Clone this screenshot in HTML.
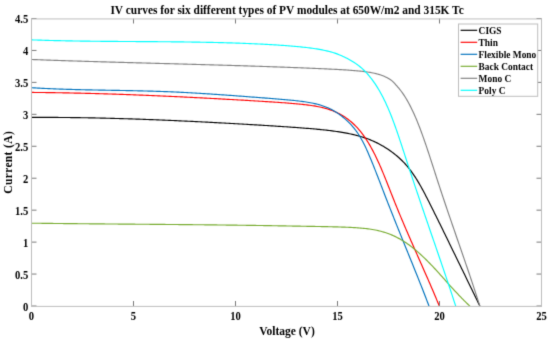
<!DOCTYPE html>
<html><head><meta charset="utf-8"><style>
html,body{margin:0;padding:0;background:#fff;}
svg{display:block;}
</style></head><body>
<svg width="550" height="342" viewBox="0 0 550 342">
<defs><filter id="bl" x="0" y="0" width="550" height="342" filterUnits="userSpaceOnUse" primitiveUnits="userSpaceOnUse" color-interpolation-filters="sRGB"><feConvolveMatrix order="3" kernelMatrix="0.0144 0.0912 0.0144 0.0912 0.5776 0.0912 0.0144 0.0912 0.0144" divisor="1" edgeMode="duplicate"/></filter><clipPath id="c"><rect x="31.5" y="18.5" width="510.0" height="287.5"/></clipPath></defs>
<g filter="url(#bl)"><rect width="550" height="342" fill="#fff"/>
<rect x="31.5" y="18.5" width="510.0" height="287.5" fill="#fff" stroke="none"/>
<g clip-path="url(#c)" fill="none" stroke-width="1.15" stroke-linejoin="round">
<path d="M23.44,117.08 L24.92,117.14 L26.40,117.21 L27.88,117.27 L29.37,117.34 L30.85,117.40 L32.33,117.43 L33.82,117.42 L35.31,117.41 L36.79,117.41 L38.28,117.41 L39.76,117.40 L41.25,117.40 L42.73,117.40 L44.22,117.40 L45.70,117.40 L47.19,117.40 L48.67,117.41 L50.16,117.41 L51.64,117.42 L53.13,117.42 L54.61,117.43 L56.10,117.44 L57.58,117.44 L59.07,117.45 L60.55,117.46 L62.04,117.48 L63.52,117.49 L65.01,117.50 L66.49,117.51 L67.98,117.53 L69.46,117.55 L70.95,117.56 L72.43,117.58 L73.92,117.60 L75.40,117.62 L76.88,117.64 L78.37,117.66 L79.85,117.68 L81.34,117.70 L82.82,117.73 L84.31,117.75 L85.79,117.78 L87.27,117.80 L88.76,117.83 L90.24,117.86 L91.73,117.89 L93.21,117.91 L94.69,117.94 L96.18,117.98 L97.66,118.01 L99.15,118.04 L100.63,118.07 L102.11,118.11 L103.60,118.14 L105.08,118.18 L106.57,118.21 L108.05,118.25 L109.53,118.29 L111.02,118.33 L112.50,118.37 L113.98,118.41 L115.47,118.45 L116.95,118.49 L118.43,118.53 L119.92,118.57 L121.40,118.62 L122.88,118.66 L124.37,118.70 L125.85,118.75 L127.33,118.80 L128.82,118.84 L130.30,118.89 L131.78,118.94 L133.27,118.99 L134.75,119.04 L136.23,119.09 L137.72,119.14 L139.20,119.19 L140.68,119.24 L142.16,119.30 L143.65,119.35 L145.13,119.40 L146.61,119.46 L148.10,119.51 L149.58,119.57 L151.06,119.63 L152.55,119.68 L154.03,119.74 L155.51,119.80 L156.99,119.86 L158.48,119.92 L159.96,119.98 L161.44,120.04 L162.92,120.10 L164.41,120.16 L165.89,120.23 L167.37,120.29 L168.85,120.35 L170.34,120.42 L171.82,120.48 L173.30,120.55 L174.78,120.61 L176.27,120.68 L177.75,120.74 L179.23,120.81 L180.71,120.88 L182.20,120.95 L183.68,121.02 L185.16,121.09 L186.64,121.16 L188.13,121.23 L189.61,121.30 L191.09,121.37 L192.57,121.44 L194.05,121.51 L195.54,121.58 L197.02,121.66 L198.50,121.73 L199.98,121.80 L201.46,121.88 L202.95,121.95 L204.43,122.03 L205.91,122.11 L207.39,122.18 L208.87,122.26 L210.36,122.33 L211.84,122.41 L213.32,122.49 L214.80,122.57 L216.28,122.65 L217.77,122.73 L219.25,122.81 L220.73,122.89 L222.21,122.97 L223.69,123.05 L225.18,123.13 L226.66,123.21 L228.14,123.29 L229.62,123.37 L231.10,123.46 L232.59,123.54 L234.07,123.62 L235.55,123.71 L237.03,123.79 L238.51,123.87 L240.00,123.96 L241.48,124.04 L242.96,124.13 L244.44,124.22 L245.92,124.30 L247.40,124.39 L248.89,124.48 L250.37,124.56 L251.85,124.65 L253.33,124.74 L254.82,124.83 L256.30,124.92 L257.78,125.01 L259.26,125.10 L260.74,125.19 L262.23,125.28 L263.71,125.37 L265.19,125.46 L266.67,125.55 L268.16,125.64 L269.64,125.74 L271.12,125.83 L272.60,125.92 L274.09,126.02 L275.57,126.11 L277.05,126.21 L278.54,126.31 L280.02,126.40 L281.50,126.50 L282.99,126.60 L284.47,126.70 L285.96,126.80 L287.44,126.90 L288.93,127.00 L290.41,127.11 L291.89,127.21 L293.38,127.32 L294.87,127.42 L296.35,127.53 L297.84,127.64 L299.32,127.75 L300.81,127.86 L302.30,127.98 L303.79,128.09 L305.20,128.20 L306.61,128.32 L308.02,128.43 L309.43,128.55 L310.84,128.67 L312.25,128.79 L313.67,128.91 L315.08,129.04 L316.50,129.17 L317.91,129.31 L319.33,129.44 L320.74,129.58 L322.16,129.73 L323.58,129.87 L325.00,130.03 L326.42,130.18 L327.84,130.35 L329.27,130.51 L330.69,130.69 L332.12,130.87 L333.55,131.06 L334.98,131.25 L336.41,131.45 L337.85,131.66 L339.28,131.88 L340.72,132.11 L342.16,132.35 L343.61,132.60 L345.05,132.86 L346.50,133.13 L347.96,133.41 L349.41,133.71 L350.88,134.02 L352.26,134.33 L353.65,134.65 L355.05,134.99 L356.44,135.35 L357.85,135.72 L359.26,136.11 L360.68,136.52 L362.11,136.96 L363.46,137.39 L364.81,137.84 L366.18,138.31 L367.55,138.81 L368.94,139.33 L370.34,139.89 L371.66,140.43 L372.99,141.01 L374.34,141.61 L375.70,142.25 L376.98,142.87 L378.27,143.52 L379.58,144.21 L380.91,144.93 L382.16,145.63 L383.42,146.37 L384.71,147.14 L386.01,147.95 L387.23,148.73 L388.46,149.55 L389.72,150.41 L390.88,151.23 L392.06,152.09 L393.25,152.99 L394.46,153.93 L395.58,154.83 L396.70,155.76 L397.84,156.74 L398.99,157.75 L400.03,158.71 L401.09,159.71 L402.15,160.74 L403.21,161.82 L404.29,162.95 L405.25,163.99 L406.21,165.07 L407.18,166.19 L408.14,167.35 L409.11,168.56 L410.09,169.81 L410.94,170.94 L411.79,172.11 L412.65,173.31 L413.51,174.55 L414.37,175.82 L415.23,177.14 L416.10,178.49 L416.97,179.89 L417.72,181.11 L418.47,182.37 L419.22,183.66 L419.98,184.97 L420.75,186.32 L421.52,187.71 L422.29,189.12 L423.07,190.57 L423.86,192.05 L424.53,193.31 L425.20,194.59 L425.87,195.89 L426.56,197.22 L427.25,198.58 L427.95,199.96 L428.66,201.36 L429.38,202.79 L430.11,204.24 L430.86,205.72 L431.61,207.23 L432.38,208.76 L433.15,210.32 L433.79,211.59 L434.42,212.88 L435.07,214.18 L435.73,215.51 L436.39,216.85 L437.06,218.22 L437.75,219.60 L438.44,221.00 L439.14,222.43 L439.85,223.87 L440.57,225.34 L441.30,226.83 L442.04,228.34 L442.79,229.87 L443.55,231.42 L444.32,233.00 L445.10,234.60 L445.90,236.23 L446.70,237.87 L447.52,239.55 L448.14,240.82 L448.77,242.11 L449.40,243.41 L450.04,244.72 L450.69,246.05 L451.35,247.39 L452.01,248.75 L452.68,250.13 L453.36,251.52 L454.05,252.92 L454.74,254.35 L455.44,255.78 L456.15,257.24 L456.87,258.71 L457.59,260.20 L458.33,261.70 L459.07,263.22 L459.82,264.76 L460.58,266.32 L461.35,267.89 L462.12,269.49 L462.91,271.10 L463.70,272.73 L464.50,274.37 L465.31,276.04 L466.13,277.73 L466.96,279.43 L467.80,281.16 L468.65,282.90 L469.51,284.67 L470.37,286.45 L471.25,288.26 L472.13,290.09 L473.03,291.94 L473.93,293.81 L474.84,295.70 L475.46,296.98 L476.08,298.26 L476.70,299.56 L477.33,300.86 L477.96,302.18 L478.60,303.50 L479.24,304.84 L479.88,306.18 L480.44,307.57 L481.01,308.98 L481.58,310.39 L482.15,311.82 L482.73,313.25" stroke="#000000"/>
<path d="M23.46,92.05 L24.88,92.11 L26.30,92.18 L27.71,92.24 L29.13,92.31 L30.54,92.37 L31.96,92.42 L33.38,92.43 L34.80,92.45 L36.21,92.46 L37.63,92.47 L39.05,92.49 L40.47,92.50 L41.89,92.52 L43.30,92.53 L44.72,92.55 L46.14,92.57 L47.56,92.59 L48.97,92.61 L50.39,92.62 L51.81,92.64 L53.23,92.67 L54.65,92.69 L56.06,92.71 L57.48,92.73 L58.90,92.76 L60.32,92.78 L61.73,92.80 L63.15,92.83 L64.57,92.86 L65.99,92.88 L67.40,92.91 L68.82,92.94 L70.24,92.97 L71.65,93.00 L73.07,93.03 L74.49,93.06 L75.91,93.09 L77.32,93.12 L78.74,93.15 L80.16,93.18 L81.58,93.22 L82.99,93.25 L84.41,93.29 L85.83,93.32 L87.24,93.36 L88.66,93.39 L90.08,93.43 L91.49,93.47 L92.91,93.51 L94.33,93.55 L95.74,93.58 L97.16,93.62 L98.58,93.66 L100.00,93.71 L101.41,93.75 L102.83,93.79 L104.25,93.83 L105.66,93.88 L107.08,93.92 L108.50,93.96 L109.91,94.01 L111.33,94.05 L112.74,94.10 L114.16,94.15 L115.58,94.19 L116.99,94.24 L118.41,94.29 L119.83,94.34 L121.24,94.39 L122.66,94.44 L124.08,94.49 L125.49,94.54 L126.91,94.59 L128.33,94.64 L129.74,94.69 L131.16,94.74 L132.57,94.80 L133.99,94.85 L135.41,94.90 L136.82,94.96 L138.24,95.01 L139.65,95.07 L141.07,95.12 L142.49,95.18 L143.90,95.24 L145.32,95.30 L146.73,95.35 L148.15,95.41 L149.57,95.47 L150.98,95.53 L152.40,95.59 L153.81,95.65 L155.23,95.71 L156.65,95.77 L158.06,95.83 L159.48,95.89 L160.89,95.96 L162.31,96.02 L163.72,96.08 L165.14,96.14 L166.56,96.21 L167.97,96.27 L169.39,96.34 L170.80,96.40 L172.22,96.47 L173.63,96.53 L175.05,96.60 L176.47,96.67 L177.88,96.73 L179.30,96.80 L180.71,96.87 L182.13,96.94 L183.54,97.01 L184.96,97.07 L186.37,97.14 L187.79,97.21 L189.20,97.28 L190.62,97.35 L192.04,97.43 L193.45,97.50 L194.87,97.57 L196.28,97.64 L197.70,97.71 L199.11,97.78 L200.53,97.86 L201.94,97.93 L203.36,98.00 L204.77,98.08 L206.19,98.15 L207.60,98.23 L209.02,98.30 L210.43,98.38 L211.85,98.45 L213.26,98.53 L214.68,98.61 L216.09,98.68 L217.51,98.76 L218.93,98.84 L220.34,98.91 L221.76,98.99 L223.17,99.07 L224.59,99.15 L226.00,99.23 L227.42,99.31 L228.83,99.38 L230.25,99.46 L231.66,99.54 L233.08,99.62 L234.49,99.71 L235.91,99.79 L237.32,99.87 L238.74,99.95 L240.15,100.03 L241.57,100.11 L242.98,100.19 L244.40,100.28 L245.81,100.36 L247.23,100.44 L248.64,100.53 L250.06,100.61 L251.47,100.70 L252.89,100.78 L254.30,100.87 L255.72,100.95 L257.13,101.04 L258.55,101.12 L259.96,101.21 L261.38,101.30 L262.80,101.39 L264.21,101.48 L265.63,101.56 L267.04,101.65 L268.46,101.74 L269.88,101.84 L271.29,101.93 L272.71,102.02 L274.12,102.11 L275.54,102.21 L276.96,102.30 L278.38,102.40 L279.79,102.50 L281.21,102.60 L282.63,102.70 L284.05,102.80 L285.47,102.91 L286.89,103.01 L288.31,103.12 L289.73,103.24 L291.15,103.35 L292.57,103.47 L294.00,103.59 L295.42,103.71 L296.84,103.84 L298.27,103.98 L299.70,104.12 L301.13,104.26 L302.56,104.41 L303.99,104.57 L305.42,104.74 L306.86,104.91 L308.29,105.10 L309.74,105.29 L311.18,105.49 L312.63,105.71 L314.08,105.94 L315.53,106.19 L316.99,106.45 L318.38,106.71 L319.78,106.99 L321.18,107.30 L322.59,107.62 L324.01,107.97 L325.44,108.35 L326.80,108.74 L328.18,109.15 L329.56,109.60 L330.96,110.09 L332.30,110.58 L333.65,111.12 L335.02,111.70 L336.33,112.29 L337.66,112.93 L338.92,113.57 L340.21,114.26 L341.52,115.01 L342.77,115.75 L344.05,116.56 L345.26,117.35 L346.49,118.21 L347.65,119.05 L348.84,119.95 L349.95,120.83 L351.07,121.77 L352.22,122.77 L353.28,123.73 L354.36,124.75 L355.46,125.84 L356.46,126.87 L357.47,127.95 L358.49,129.10 L359.53,130.31 L360.46,131.44 L361.40,132.62 L362.34,133.86 L363.30,135.16 L364.15,136.34 L365.00,137.57 L365.87,138.85 L366.74,140.19 L367.61,141.58 L368.37,142.81 L369.14,144.09 L369.91,145.40 L370.69,146.77 L371.47,148.18 L372.27,149.63 L372.93,150.89 L373.60,152.17 L374.28,153.49 L374.96,154.85 L375.64,156.25 L376.34,157.68 L377.04,159.16 L377.74,160.67 L378.45,162.23 L379.17,163.83 L379.75,165.14 L380.34,166.47 L380.93,167.84 L381.53,169.24 L382.13,170.66 L382.74,172.12 L383.36,173.61 L383.99,175.13 L384.62,176.68 L385.26,178.26 L385.91,179.88 L386.57,181.53 L387.24,183.21 L387.92,184.93 L388.61,186.69 L389.14,188.03 L389.67,189.39 L390.21,190.77 L390.76,192.17 L391.32,193.59 L391.89,195.04 L392.47,196.50 L393.06,197.99 L393.66,199.50 L394.27,201.03 L394.89,202.59 L395.53,204.17 L396.18,205.77 L396.84,207.39 L397.51,209.04 L398.20,210.71 L398.90,212.41 L399.61,214.13 L400.34,215.88 L401.08,217.65 L401.84,219.45 L402.61,221.28 L403.39,223.14 L404.19,225.02 L405.01,226.93 L405.84,228.87 L406.41,230.18 L406.98,231.51 L407.56,232.84 L408.14,234.19 L408.73,235.56 L409.33,236.94 L409.94,238.33 L410.55,239.74 L411.17,241.16 L411.80,242.59 L412.44,244.05 L413.08,245.51 L413.74,246.99 L414.39,248.49 L415.06,250.00 L415.74,251.53 L416.42,253.07 L417.11,254.63 L417.80,256.21 L418.51,257.80 L419.22,259.41 L419.94,261.04 L420.67,262.68 L421.40,264.34 L422.14,266.02 L422.89,267.72 L423.65,269.44 L424.41,271.17 L425.18,272.93 L425.96,274.70 L426.75,276.49 L427.54,278.30 L428.34,280.13 L429.14,281.98 L429.96,283.85 L430.77,285.75 L431.60,287.66 L432.43,289.60 L433.26,291.55 L434.11,293.53 L434.95,295.53 L435.81,297.56 L436.66,299.60 L437.52,301.67 L438.39,303.77 L439.26,305.89 L440.04,308.06 L440.83,310.26 L441.62,312.48" stroke="#ff0000"/>
<path d="M23.50,87.31 L24.95,87.38 L26.40,87.45 L27.85,87.52 L29.30,87.59 L30.75,87.66 L32.20,87.74 L33.64,87.82 L35.09,87.91 L36.54,87.99 L37.99,88.08 L39.44,88.15 L40.88,88.23 L42.33,88.31 L43.78,88.38 L45.23,88.45 L46.68,88.52 L48.13,88.59 L49.58,88.65 L51.03,88.72 L52.47,88.78 L53.92,88.84 L55.37,88.90 L56.82,88.95 L58.27,89.01 L59.72,89.06 L61.17,89.11 L62.62,89.16 L64.07,89.21 L65.52,89.26 L66.97,89.31 L68.42,89.35 L69.87,89.40 L71.32,89.44 L72.77,89.48 L74.22,89.52 L75.67,89.56 L77.12,89.60 L78.57,89.63 L80.02,89.67 L81.47,89.71 L82.92,89.74 L84.37,89.77 L85.82,89.81 L87.27,89.84 L88.72,89.87 L90.17,89.90 L91.62,89.93 L93.08,89.96 L94.53,89.99 L95.98,90.02 L97.43,90.04 L98.88,90.07 L100.33,90.10 L101.78,90.13 L103.23,90.15 L104.68,90.18 L106.13,90.20 L107.58,90.23 L109.03,90.26 L110.48,90.28 L111.94,90.31 L113.39,90.33 L114.84,90.36 L116.29,90.38 L117.74,90.41 L119.19,90.44 L120.64,90.46 L122.09,90.49 L123.54,90.52 L124.99,90.54 L126.44,90.57 L127.89,90.60 L129.34,90.63 L130.79,90.66 L132.25,90.69 L133.70,90.72 L135.15,90.75 L136.60,90.78 L138.05,90.81 L139.50,90.84 L140.95,90.88 L142.40,90.91 L143.85,90.95 L145.30,90.98 L146.75,91.02 L148.20,91.06 L149.65,91.10 L151.10,91.14 L152.55,91.18 L154.00,91.23 L155.45,91.27 L156.90,91.32 L158.35,91.36 L159.80,91.41 L161.25,91.46 L162.70,91.51 L164.15,91.57 L165.60,91.62 L167.05,91.67 L168.50,91.73 L169.95,91.79 L171.39,91.85 L172.84,91.91 L174.29,91.98 L175.74,92.04 L177.19,92.11 L178.64,92.18 L180.09,92.25 L181.54,92.32 L182.99,92.40 L184.43,92.47 L185.88,92.55 L187.33,92.62 L188.78,92.70 L190.23,92.78 L191.67,92.86 L193.12,92.95 L194.57,93.03 L196.02,93.12 L197.47,93.20 L198.91,93.29 L200.36,93.38 L201.81,93.47 L203.26,93.56 L204.71,93.65 L206.15,93.74 L207.60,93.84 L209.05,93.93 L210.50,94.03 L211.94,94.12 L213.39,94.22 L214.84,94.32 L216.29,94.42 L217.73,94.51 L219.18,94.61 L220.63,94.72 L222.08,94.82 L223.52,94.92 L224.97,95.02 L226.42,95.12 L227.86,95.23 L229.31,95.33 L230.76,95.44 L232.21,95.54 L233.65,95.65 L235.10,95.76 L236.55,95.86 L237.99,95.97 L239.44,96.08 L240.89,96.18 L242.34,96.29 L243.78,96.40 L245.23,96.51 L246.68,96.62 L248.12,96.73 L249.57,96.84 L251.02,96.95 L252.47,97.06 L253.91,97.17 L255.36,97.28 L256.81,97.39 L258.26,97.50 L259.71,97.61 L261.15,97.72 L262.60,97.83 L264.05,97.94 L265.50,98.06 L266.95,98.17 L268.40,98.28 L269.84,98.39 L271.29,98.51 L272.74,98.62 L274.19,98.74 L275.64,98.86 L277.09,98.97 L278.54,99.09 L280.00,99.21 L281.45,99.34 L282.90,99.46 L284.35,99.58 L285.80,99.71 L287.26,99.84 L288.71,99.98 L290.17,100.11 L291.62,100.26 L293.08,100.40 L294.54,100.55 L296.00,100.71 L297.46,100.87 L298.92,101.04 L300.39,101.22 L301.86,101.40 L303.33,101.60 L304.73,101.80 L306.13,102.01 L307.54,102.23 L308.95,102.47 L310.36,102.72 L311.78,102.99 L313.20,103.28 L314.63,103.59 L316.07,103.92 L317.51,104.28 L318.89,104.65 L320.28,105.05 L321.68,105.48 L323.09,105.95 L324.44,106.42 L325.81,106.94 L327.19,107.51 L328.51,108.08 L329.85,108.71 L331.13,109.34 L332.43,110.02 L333.67,110.72 L334.93,111.46 L336.13,112.21 L337.36,113.01 L338.61,113.87 L339.80,114.72 L341.02,115.63 L342.17,116.53 L343.35,117.48 L344.46,118.41 L345.59,119.39 L346.64,120.34 L347.71,121.34 L348.80,122.39 L349.80,123.40 L350.82,124.46 L351.84,125.58 L352.88,126.77 L353.81,127.87 L354.75,129.04 L355.68,130.26 L356.62,131.55 L357.45,132.72 L358.27,133.95 L359.09,135.23 L359.92,136.57 L360.74,137.96 L361.45,139.20 L362.16,140.48 L362.87,141.81 L363.58,143.18 L364.30,144.60 L365.01,146.06 L365.73,147.57 L366.34,148.87 L366.94,150.21 L367.55,151.58 L368.17,152.98 L368.79,154.42 L369.42,155.90 L370.06,157.42 L370.70,158.97 L371.36,160.56 L372.03,162.20 L372.57,163.53 L373.12,164.90 L373.68,166.29 L374.24,167.70 L374.81,169.15 L375.40,170.63 L375.99,172.13 L376.59,173.67 L377.20,175.23 L377.82,176.83 L378.45,178.46 L379.10,180.12 L379.75,181.82 L380.42,183.55 L380.93,184.87 L381.44,186.21 L381.96,187.57 L382.49,188.95 L383.03,190.35 L383.58,191.77 L384.14,193.21 L384.70,194.68 L385.28,196.17 L385.86,197.68 L386.45,199.21 L387.06,200.76 L387.67,202.34 L388.29,203.94 L388.93,205.56 L389.58,207.21 L390.23,208.89 L390.90,210.58 L391.58,212.31 L392.28,214.06 L392.98,215.83 L393.70,217.64 L394.43,219.47 L395.17,221.33 L395.92,223.21 L396.69,225.13 L397.47,227.07 L398.00,228.39 L398.54,229.71 L399.08,231.05 L399.62,232.40 L400.17,233.77 L400.73,235.15 L401.30,236.55 L401.87,237.96 L402.45,239.38 L403.03,240.82 L403.62,242.27 L404.22,243.74 L404.82,245.22 L405.43,246.72 L406.04,248.24 L406.67,249.77 L407.29,251.31 L407.93,252.87 L408.57,254.45 L409.22,256.05 L409.87,257.66 L410.54,259.29 L411.20,260.93 L411.88,262.59 L412.56,264.27 L413.25,265.97 L413.94,267.69 L414.64,269.42 L415.35,271.17 L416.06,272.94 L416.78,274.73 L417.50,276.54 L418.23,278.37 L418.97,280.22 L419.71,282.09 L420.46,283.97 L421.21,285.88 L421.97,287.81 L422.74,289.76 L423.51,291.73 L424.29,293.73 L425.07,295.74 L425.85,297.78 L426.64,299.84 L427.44,301.92 L428.24,304.03 L429.04,306.16 L429.77,308.34 L430.50,310.54 L431.24,312.76" stroke="#0072bd"/>
<path d="M23.56,223.09 L25.00,223.11 L26.44,223.13 L27.88,223.14 L29.32,223.16 L30.76,223.18 L32.20,223.20 L33.64,223.21 L35.08,223.23 L36.52,223.25 L37.96,223.27 L39.40,223.29 L40.84,223.30 L42.28,223.32 L43.72,223.34 L45.16,223.35 L46.60,223.37 L48.04,223.39 L49.48,223.40 L50.91,223.42 L52.35,223.44 L53.79,223.45 L55.23,223.47 L56.67,223.48 L58.11,223.50 L59.55,223.51 L60.99,223.53 L62.43,223.54 L63.87,223.56 L65.31,223.57 L66.75,223.59 L68.19,223.60 L69.63,223.62 L71.07,223.63 L72.51,223.65 L73.95,223.66 L75.39,223.67 L76.83,223.69 L78.27,223.70 L79.71,223.72 L81.15,223.73 L82.59,223.74 L84.03,223.76 L85.47,223.77 L86.91,223.78 L88.35,223.80 L89.79,223.81 L91.23,223.82 L92.67,223.83 L94.11,223.85 L95.54,223.86 L96.98,223.87 L98.42,223.89 L99.86,223.90 L101.30,223.91 L102.74,223.92 L104.18,223.93 L105.62,223.95 L107.06,223.96 L108.50,223.97 L109.94,223.98 L111.38,224.00 L112.82,224.01 L114.26,224.02 L115.70,224.03 L117.14,224.04 L118.58,224.06 L120.02,224.07 L121.46,224.08 L122.90,224.09 L124.34,224.10 L125.78,224.11 L127.22,224.13 L128.66,224.14 L130.10,224.15 L131.54,224.16 L132.98,224.17 L134.42,224.18 L135.86,224.20 L137.30,224.21 L138.74,224.22 L140.18,224.23 L141.62,224.24 L143.05,224.26 L144.49,224.27 L145.93,224.28 L147.37,224.29 L148.81,224.30 L150.25,224.31 L151.69,224.33 L153.13,224.34 L154.57,224.35 L156.01,224.36 L157.45,224.37 L158.89,224.39 L160.33,224.40 L161.77,224.41 L163.21,224.42 L164.65,224.44 L166.09,224.45 L167.53,224.46 L168.97,224.47 L170.41,224.49 L171.85,224.50 L173.29,224.51 L174.73,224.52 L176.17,224.54 L177.61,224.55 L179.05,224.56 L180.49,224.58 L181.93,224.59 L183.37,224.60 L184.81,224.62 L186.25,224.63 L187.69,224.64 L189.12,224.66 L190.56,224.67 L192.00,224.68 L193.44,224.70 L194.88,224.71 L196.32,224.73 L197.76,224.74 L199.20,224.75 L200.64,224.77 L202.08,224.78 L203.52,224.80 L204.96,224.81 L206.40,224.83 L207.84,224.84 L209.28,224.86 L210.72,224.87 L212.16,224.89 L213.60,224.91 L215.04,224.92 L216.48,224.94 L217.92,224.95 L219.36,224.97 L220.80,224.99 L222.24,225.00 L223.68,225.02 L225.12,225.04 L226.56,225.06 L228.00,225.07 L229.44,225.09 L230.87,225.11 L232.31,225.13 L233.75,225.14 L235.19,225.16 L236.63,225.18 L238.07,225.20 L239.51,225.22 L240.95,225.24 L242.39,225.26 L243.83,225.28 L245.27,225.30 L246.71,225.32 L248.15,225.34 L249.59,225.36 L251.03,225.38 L252.47,225.40 L253.91,225.42 L255.35,225.44 L256.79,225.46 L258.23,225.49 L259.67,225.51 L261.11,225.53 L262.55,225.55 L263.99,225.57 L265.43,225.60 L266.87,225.62 L268.31,225.64 L269.75,225.67 L271.18,225.69 L272.62,225.71 L274.06,225.74 L275.50,225.76 L276.94,225.79 L278.38,225.81 L279.82,225.84 L281.26,225.86 L282.70,225.89 L284.14,225.91 L285.58,225.93 L287.02,225.96 L288.46,225.98 L289.90,226.01 L291.34,226.03 L292.78,226.06 L294.22,226.08 L295.66,226.11 L297.10,226.13 L298.54,226.16 L299.98,226.18 L301.42,226.21 L302.87,226.23 L304.31,226.26 L305.75,226.29 L307.19,226.31 L308.63,226.34 L310.07,226.36 L311.51,226.39 L312.95,226.41 L314.40,226.44 L315.84,226.47 L317.28,226.49 L318.73,226.52 L320.17,226.55 L321.61,226.57 L323.06,226.60 L324.50,226.63 L325.95,226.66 L327.40,226.69 L328.84,226.72 L330.29,226.75 L331.74,226.78 L333.19,226.82 L334.64,226.85 L336.09,226.89 L337.55,226.93 L339.00,226.97 L340.46,227.01 L341.92,227.06 L343.38,227.11 L344.85,227.16 L346.32,227.21 L347.79,227.27 L349.26,227.34 L350.74,227.41 L352.22,227.48 L353.70,227.56 L355.12,227.65 L356.54,227.74 L357.96,227.84 L359.39,227.95 L360.83,228.07 L362.28,228.20 L363.73,228.34 L365.19,228.49 L366.67,228.67 L368.07,228.84 L369.49,229.04 L370.92,229.25 L372.36,229.48 L373.82,229.73 L375.30,230.01 L376.70,230.30 L378.13,230.61 L379.57,230.95 L380.95,231.30 L382.34,231.68 L383.76,232.09 L385.21,232.54 L386.58,233.00 L387.97,233.49 L389.39,234.03 L390.74,234.56 L392.11,235.14 L393.52,235.76 L394.84,236.38 L396.18,237.04 L397.45,237.68 L398.73,238.37 L400.05,239.10 L401.39,239.88 L402.64,240.63 L403.91,241.43 L405.21,242.28 L406.41,243.08 L407.63,243.93 L408.88,244.82 L410.15,245.75 L411.31,246.63 L412.49,247.54 L413.69,248.50 L414.92,249.50 L416.02,250.41 L417.14,251.36 L418.28,252.35 L419.44,253.38 L420.63,254.45 L421.84,255.57 L422.89,256.56 L423.97,257.58 L425.07,258.64 L426.18,259.74 L427.32,260.88 L428.48,262.05 L429.66,263.26 L430.67,264.30 L431.69,265.37 L432.73,266.47 L433.78,267.60 L434.86,268.76 L435.96,269.96 L437.08,271.18 L438.22,272.44 L439.39,273.73 L440.34,274.78 L441.31,275.86 L442.29,276.95 L443.30,278.08 L444.32,279.22 L445.36,280.38 L446.42,281.57 L447.51,282.78 L448.61,284.01 L449.74,285.27 L450.90,286.55 L452.08,287.85 L453.28,289.17 L454.52,290.52 L455.79,291.89 L456.76,292.93 L457.75,293.98 L458.75,295.05 L459.78,296.13 L460.83,297.22 L461.90,298.32 L463.00,299.44 L464.12,300.57 L465.26,301.71 L466.43,302.86 L467.62,304.02 L468.84,305.19 L470.04,306.42 L471.14,307.76 L472.26,309.12 L473.39,310.50 L474.53,311.91 L475.70,313.34" stroke="#77ac30"/>
<path d="M23.56,59.22 L25.03,59.26 L26.50,59.31 L27.97,59.36 L29.44,59.41 L30.91,59.46 L32.38,59.52 L33.85,59.57 L35.32,59.63 L36.79,59.68 L38.26,59.74 L39.73,59.79 L41.20,59.85 L42.67,59.90 L44.14,59.95 L45.61,60.01 L47.08,60.06 L48.55,60.11 L50.02,60.16 L51.49,60.21 L52.96,60.27 L54.43,60.32 L55.89,60.37 L57.36,60.42 L58.83,60.47 L60.30,60.52 L61.77,60.57 L63.24,60.62 L64.71,60.66 L66.18,60.71 L67.65,60.76 L69.12,60.81 L70.59,60.86 L72.06,60.91 L73.53,60.95 L75.00,61.00 L76.47,61.05 L77.94,61.09 L79.41,61.14 L80.88,61.19 L82.35,61.23 L83.82,61.28 L85.29,61.32 L86.76,61.37 L88.23,61.41 L89.70,61.46 L91.17,61.50 L92.64,61.55 L94.11,61.59 L95.58,61.64 L97.05,61.68 L98.52,61.72 L99.99,61.77 L101.46,61.81 L102.93,61.85 L104.40,61.90 L105.87,61.94 L107.34,61.98 L108.81,62.02 L110.28,62.07 L111.75,62.11 L113.22,62.15 L114.69,62.19 L116.16,62.23 L117.63,62.28 L119.10,62.32 L120.57,62.36 L122.04,62.40 L123.51,62.44 L124.98,62.48 L126.45,62.52 L127.92,62.56 L129.39,62.60 L130.86,62.65 L132.33,62.69 L133.80,62.73 L135.27,62.77 L136.74,62.81 L138.21,62.85 L139.68,62.89 L141.15,62.93 L142.62,62.97 L144.09,63.01 L145.56,63.05 L147.03,63.09 L148.51,63.13 L149.98,63.17 L151.45,63.21 L152.92,63.25 L154.39,63.29 L155.86,63.33 L157.33,63.37 L158.80,63.41 L160.27,63.45 L161.74,63.49 L163.21,63.53 L164.68,63.57 L166.15,63.60 L167.62,63.64 L169.09,63.68 L170.56,63.72 L172.03,63.76 L173.50,63.80 L174.97,63.84 L176.44,63.88 L177.91,63.92 L179.38,63.96 L180.85,64.00 L182.32,64.04 L183.79,64.08 L185.26,64.12 L186.73,64.16 L188.20,64.20 L189.67,64.24 L191.14,64.29 L192.61,64.33 L194.08,64.37 L195.55,64.41 L197.02,64.45 L198.49,64.49 L199.96,64.53 L201.43,64.57 L202.90,64.61 L204.37,64.65 L205.84,64.70 L207.31,64.74 L208.78,64.78 L210.25,64.82 L211.72,64.86 L213.19,64.91 L214.66,64.95 L216.13,64.99 L217.60,65.03 L219.07,65.08 L220.54,65.12 L222.01,65.16 L223.48,65.20 L224.95,65.25 L226.42,65.29 L227.89,65.34 L229.36,65.38 L230.83,65.42 L232.30,65.47 L233.77,65.51 L235.24,65.56 L236.71,65.60 L238.18,65.65 L239.65,65.69 L241.12,65.74 L242.59,65.78 L244.06,65.83 L245.53,65.88 L247.00,65.92 L248.47,65.97 L249.94,66.02 L251.41,66.06 L252.88,66.11 L254.35,66.16 L255.82,66.21 L257.29,66.26 L258.76,66.30 L260.23,66.35 L261.70,66.40 L263.17,66.45 L264.64,66.50 L266.11,66.55 L267.58,66.60 L269.05,66.65 L270.52,66.70 L271.99,66.76 L273.46,66.81 L274.93,66.86 L276.40,66.91 L277.87,66.96 L279.34,67.02 L280.81,67.07 L282.28,67.12 L283.74,67.18 L285.21,67.23 L286.68,67.29 L288.15,67.34 L289.62,67.40 L291.09,67.45 L292.56,67.51 L294.03,67.56 L295.50,67.62 L296.97,67.68 L298.44,67.74 L299.91,67.79 L301.38,67.85 L302.85,67.91 L304.32,67.97 L305.79,68.03 L307.26,68.09 L308.73,68.15 L310.20,68.21 L311.67,68.27 L313.14,68.34 L314.61,68.40 L316.08,68.46 L317.55,68.53 L319.02,68.59 L320.49,68.66 L321.96,68.72 L323.43,68.79 L324.89,68.86 L326.36,68.93 L327.83,68.99 L329.31,69.06 L330.78,69.14 L332.25,69.21 L333.72,69.28 L335.19,69.36 L336.66,69.43 L338.13,69.51 L339.60,69.59 L341.07,69.68 L342.55,69.76 L344.02,69.85 L345.49,69.94 L346.96,70.03 L348.44,70.13 L349.91,70.23 L351.39,70.34 L352.87,70.45 L354.35,70.57 L355.83,70.70 L357.31,70.83 L358.79,70.97 L360.27,71.12 L361.68,71.27 L363.10,71.44 L364.51,71.61 L365.93,71.79 L367.36,71.99 L368.79,72.21 L370.22,72.44 L371.67,72.70 L373.12,72.99 L374.51,73.29 L375.90,73.61 L377.32,73.98 L378.75,74.39 L380.11,74.82 L381.50,75.29 L382.83,75.79 L384.19,76.34 L385.48,76.92 L386.81,77.55 L388.07,78.21 L389.36,78.95 L390.56,79.72 L391.76,80.62 L392.83,81.56 L393.88,82.62 L394.84,83.68 L395.82,84.79 L396.85,85.95 L397.82,87.05 L398.82,88.21 L399.73,89.32 L400.65,90.49 L401.59,91.74 L402.42,92.89 L403.27,94.12 L404.13,95.41 L405.00,96.77 L405.76,97.99 L406.53,99.28 L407.31,100.62 L408.11,102.03 L408.91,103.51 L409.59,104.79 L410.28,106.12 L410.98,107.51 L411.69,108.94 L412.41,110.44 L413.14,111.99 L413.73,113.28 L414.32,114.60 L414.93,115.97 L415.54,117.38 L416.16,118.83 L416.78,120.33 L417.42,121.88 L418.06,123.47 L418.71,125.11 L419.37,126.81 L420.04,128.55 L420.55,129.89 L421.07,131.27 L421.59,132.68 L422.11,134.12 L422.64,135.59 L423.18,137.09 L423.73,138.64 L424.28,140.21 L424.84,141.82 L425.41,143.47 L425.98,145.16 L426.57,146.89 L427.16,148.65 L427.76,150.46 L428.37,152.30 L428.99,154.19 L429.63,156.12 L430.27,158.10 L430.93,160.12 L431.37,161.49 L431.82,162.88 L432.27,164.29 L432.74,165.73 L433.20,167.18 L433.68,168.66 L434.16,170.16 L434.65,171.68 L435.15,173.22 L435.65,174.79 L436.16,176.38 L436.68,177.99 L437.21,179.63 L437.75,181.29 L438.30,182.98 L438.86,184.69 L439.43,186.42 L440.01,188.18 L440.60,189.97 L441.20,191.78 L441.81,193.62 L442.43,195.48 L443.06,197.38 L443.71,199.30 L444.36,201.25 L445.03,203.23 L445.70,205.24 L446.39,207.28 L447.09,209.35 L447.81,211.45 L448.53,213.58 L449.27,215.74 L450.02,217.93 L450.79,220.16 L451.56,222.42 L452.35,224.72 L453.15,227.05 L453.97,229.41 L454.80,231.81 L455.64,234.25 L456.49,236.72 L457.36,239.23 L458.24,241.78 L459.14,244.37 L460.05,247.00 L460.97,249.66 L461.43,251.01 L461.90,252.37 L462.38,253.74 L462.85,255.12 L463.33,256.51 L463.81,257.91 L464.30,259.32 L464.79,260.75 L465.28,262.18 L465.77,263.63 L466.27,265.08 L466.77,266.55 L467.28,268.03 L467.79,269.52 L468.30,271.02 L468.81,272.53 L469.33,274.06 L469.85,275.59 L470.37,277.14 L470.89,278.70 L471.42,280.28 L471.95,281.86 L472.49,283.46 L473.02,285.07 L473.56,286.69 L474.10,288.33 L474.64,289.98 L475.19,291.64 L475.74,293.31 L476.29,295.00 L476.84,296.70 L477.40,298.42 L477.95,300.15 L478.51,301.89 L479.07,303.65 L479.63,305.42 L480.15,307.22 L480.67,309.03 L481.19,310.86 L481.72,312.70" stroke="#808080"/>
<path d="M23.50,39.60 L24.97,39.65 L26.43,39.70 L27.90,39.75 L29.36,39.80 L30.83,39.85 L32.29,39.90 L33.76,39.95 L35.23,40.00 L36.69,40.05 L38.16,40.10 L39.62,40.15 L41.09,40.19 L42.56,40.24 L44.02,40.28 L45.49,40.32 L46.95,40.37 L48.42,40.41 L49.89,40.45 L51.35,40.48 L52.82,40.52 L54.28,40.56 L55.75,40.59 L57.22,40.63 L58.68,40.66 L60.15,40.69 L61.62,40.73 L63.08,40.76 L64.55,40.79 L66.02,40.82 L67.48,40.84 L68.95,40.87 L70.42,40.90 L71.88,40.93 L73.35,40.95 L74.82,40.97 L76.28,41.00 L77.75,41.02 L79.22,41.04 L80.68,41.07 L82.15,41.09 L83.62,41.11 L85.08,41.13 L86.55,41.15 L88.02,41.16 L89.48,41.18 L90.95,41.20 L92.42,41.22 L93.88,41.23 L95.35,41.25 L96.82,41.26 L98.29,41.28 L99.75,41.29 L101.22,41.31 L102.69,41.32 L104.15,41.34 L105.62,41.35 L107.09,41.36 L108.56,41.37 L110.02,41.38 L111.49,41.40 L112.96,41.41 L114.42,41.42 L115.89,41.43 L117.36,41.44 L118.83,41.45 L120.29,41.46 L121.76,41.47 L123.23,41.48 L124.69,41.49 L126.16,41.50 L127.63,41.51 L129.10,41.52 L130.56,41.53 L132.03,41.53 L133.50,41.54 L134.96,41.55 L136.43,41.56 L137.90,41.57 L139.37,41.58 L140.83,41.59 L142.30,41.60 L143.77,41.61 L145.24,41.62 L146.70,41.62 L148.17,41.63 L149.64,41.64 L151.10,41.65 L152.57,41.66 L154.04,41.67 L155.51,41.68 L156.97,41.69 L158.44,41.70 L159.91,41.72 L161.37,41.73 L162.84,41.74 L164.31,41.75 L165.78,41.76 L167.24,41.78 L168.71,41.79 L170.18,41.80 L171.64,41.82 L173.11,41.83 L174.58,41.84 L176.05,41.86 L177.51,41.88 L178.98,41.89 L180.45,41.91 L181.91,41.92 L183.38,41.94 L184.85,41.96 L186.31,41.98 L187.78,42.00 L189.25,42.02 L190.71,42.04 L192.18,42.06 L193.65,42.08 L195.11,42.10 L196.58,42.13 L198.05,42.15 L199.51,42.18 L200.98,42.20 L202.45,42.23 L203.91,42.26 L205.38,42.28 L206.85,42.31 L208.31,42.34 L209.78,42.37 L211.25,42.40 L212.71,42.43 L214.18,42.47 L215.65,42.50 L217.11,42.54 L218.58,42.57 L220.05,42.61 L221.51,42.65 L222.98,42.69 L224.44,42.73 L225.91,42.77 L227.38,42.81 L228.84,42.85 L230.31,42.90 L231.78,42.94 L233.24,42.99 L234.71,43.04 L236.17,43.08 L237.64,43.13 L239.10,43.19 L240.57,43.24 L242.04,43.29 L243.50,43.35 L244.97,43.40 L246.43,43.46 L247.90,43.52 L249.37,43.58 L250.83,43.64 L252.30,43.71 L253.76,43.77 L255.23,43.84 L256.69,43.90 L258.16,43.97 L259.63,44.04 L261.09,44.12 L262.56,44.19 L264.02,44.27 L265.49,44.34 L266.95,44.42 L268.42,44.50 L269.88,44.59 L271.35,44.67 L272.82,44.76 L274.28,44.85 L275.75,44.94 L277.21,45.03 L278.68,45.13 L280.15,45.23 L281.61,45.33 L283.08,45.43 L284.55,45.53 L286.01,45.64 L287.48,45.75 L288.95,45.87 L290.42,45.98 L291.88,46.10 L293.35,46.23 L294.82,46.35 L296.29,46.49 L297.76,46.62 L299.23,46.76 L300.70,46.91 L302.17,47.06 L303.64,47.21 L305.12,47.38 L306.59,47.54 L308.06,47.72 L309.54,47.90 L311.01,48.10 L312.42,48.29 L313.82,48.49 L315.22,48.70 L316.63,48.92 L318.03,49.15 L319.44,49.39 L320.85,49.65 L322.26,49.91 L323.67,50.20 L325.08,50.50 L326.50,50.82 L327.91,51.15 L329.33,51.51 L330.75,51.89 L332.17,52.30 L333.59,52.73 L334.94,53.17 L336.30,53.64 L337.66,54.14 L339.03,54.68 L340.40,55.24 L341.72,55.81 L343.04,56.40 L344.38,57.04 L345.67,57.66 L346.98,58.33 L348.23,58.98 L349.52,59.68 L350.83,60.43 L352.09,61.17 L353.38,61.97 L354.61,62.77 L355.87,63.63 L357.07,64.48 L358.29,65.39 L359.44,66.29 L360.61,67.25 L361.69,68.18 L362.80,69.17 L363.92,70.23 L364.95,71.24 L365.99,72.31 L367.04,73.44 L367.99,74.50 L368.95,75.62 L369.92,76.79 L370.91,78.02 L371.77,79.15 L372.65,80.32 L373.54,81.55 L374.43,82.83 L375.34,84.16 L376.12,85.35 L376.90,86.58 L377.70,87.86 L378.49,89.18 L379.30,90.55 L380.11,91.97 L380.92,93.44 L381.61,94.70 L382.29,96.01 L382.98,97.35 L383.68,98.72 L384.38,100.14 L385.08,101.60 L385.79,103.11 L386.50,104.65 L387.21,106.24 L387.79,107.55 L388.37,108.89 L388.95,110.25 L389.53,111.65 L390.12,113.08 L390.71,114.54 L391.30,116.04 L391.90,117.57 L392.50,119.13 L393.11,120.73 L393.72,122.36 L394.33,124.03 L394.95,125.74 L395.58,127.49 L396.05,128.82 L396.53,130.18 L397.01,131.56 L397.49,132.96 L397.98,134.39 L398.47,135.84 L398.97,137.31 L399.47,138.81 L399.97,140.33 L400.49,141.87 L401.00,143.44 L401.53,145.04 L402.06,146.66 L402.60,148.31 L403.14,149.98 L403.69,151.68 L404.26,153.41 L404.83,155.16 L405.41,156.95 L406.00,158.75 L406.60,160.59 L407.21,162.46 L407.83,164.36 L408.47,166.28 L409.11,168.24 L409.77,170.23 L410.43,172.25 L410.88,173.61 L411.34,174.99 L411.80,176.38 L412.27,177.79 L412.74,179.21 L413.22,180.65 L413.71,182.10 L414.20,183.57 L414.69,185.06 L415.19,186.56 L415.70,188.07 L416.22,189.60 L416.74,191.15 L417.26,192.71 L417.80,194.30 L418.34,195.89 L418.88,197.51 L419.43,199.14 L419.99,200.79 L420.56,202.46 L421.13,204.14 L421.71,205.84 L422.30,207.57 L422.89,209.30 L423.49,211.06 L424.09,212.84 L424.71,214.64 L425.33,216.45 L425.96,218.29 L426.59,220.14 L427.24,222.02 L427.89,223.91 L428.55,225.83 L429.21,227.76 L429.88,229.72 L430.56,231.70 L431.25,233.70 L431.95,235.72 L432.65,237.77 L433.36,239.83 L434.08,241.92 L434.81,244.03 L435.54,246.17 L436.28,248.33 L437.03,250.51 L437.79,252.71 L438.56,254.94 L439.33,257.20 L440.11,259.48 L440.90,261.78 L441.69,264.11 L442.50,266.47 L443.31,268.85 L444.12,271.26 L444.95,273.69 L445.78,276.16 L446.62,278.65 L447.47,281.16 L448.32,283.71 L449.18,286.28 L450.05,288.89 L450.93,291.52 L451.81,294.18 L452.69,296.88 L453.14,298.24 L453.58,299.60 L454.03,300.97 L454.48,302.36 L454.93,303.75 L455.39,305.14 L455.84,306.55 L456.26,307.97 L456.68,309.40 L457.11,310.84 L457.53,312.29" stroke="#00ffff"/>
</g>
<path d="M31.50,306.0v-5M31.50,18.5v5M133.50,306.0v-5M133.50,18.5v5M235.50,306.0v-5M235.50,18.5v5M337.50,306.0v-5M337.50,18.5v5M439.50,306.0v-5M439.50,18.5v5M541.50,306.0v-5M541.50,18.5v5M31.5,306.00h5M541.5,306.00h-5M31.5,274.06h5M541.5,274.06h-5M31.5,242.11h5M541.5,242.11h-5M31.5,210.17h5M541.5,210.17h-5M31.5,178.22h5M541.5,178.22h-5M31.5,146.28h5M541.5,146.28h-5M31.5,114.33h5M541.5,114.33h-5M31.5,82.39h5M541.5,82.39h-5M31.5,50.44h5M541.5,50.44h-5M31.5,18.50h5M541.5,18.50h-5" stroke="#7a7a7a" stroke-width="1" fill="none"/>
<path d="M31.5,18.95H541.5M31.5,306.4H541.5M31.5,18.2V306.9M541.5,18.2V306.9" fill="none" stroke="#bdbdbd" stroke-width="1"/>
<g font-family="Liberation Serif, serif" font-weight="bold" font-size="11.8" fill="#000"><text transform="translate(31.50,319.7) scale(0.9,1)" text-anchor="middle">0</text><text transform="translate(133.50,319.7) scale(0.9,1)" text-anchor="middle">5</text><text transform="translate(235.50,319.7) scale(0.9,1)" text-anchor="middle">10</text><text transform="translate(337.50,319.7) scale(0.9,1)" text-anchor="middle">15</text><text transform="translate(439.50,319.7) scale(0.9,1)" text-anchor="middle">20</text><text transform="translate(541.50,319.7) scale(0.9,1)" text-anchor="middle">25</text><text transform="translate(28.2,310.50) scale(0.9,1)" text-anchor="end">0</text><text transform="translate(28.2,278.56) scale(0.9,1)" text-anchor="end">0.5</text><text transform="translate(28.2,246.61) scale(0.9,1)" text-anchor="end">1</text><text transform="translate(28.2,214.67) scale(0.9,1)" text-anchor="end">1.5</text><text transform="translate(28.2,182.72) scale(0.9,1)" text-anchor="end">2</text><text transform="translate(28.2,150.78) scale(0.9,1)" text-anchor="end">2.5</text><text transform="translate(28.2,118.83) scale(0.9,1)" text-anchor="end">3</text><text transform="translate(28.2,86.89) scale(0.9,1)" text-anchor="end">3.5</text><text transform="translate(28.2,54.94) scale(0.9,1)" text-anchor="end">4</text><text transform="translate(28.2,23.00) scale(0.9,1)" text-anchor="end">4.5</text></g>
<text x="287.1" y="14.3" text-anchor="middle" textLength="353.3" lengthAdjust="spacingAndGlyphs" font-family="Liberation Serif, serif" font-weight="bold" font-size="12.3">IV curves for six different types of PV modules at 650W/m2 and 315K Tc</text>
<text x="287" y="335.2" text-anchor="middle" font-family="Liberation Serif, serif" font-weight="bold" font-size="11.5">Voltage (V)</text>
<text transform="translate(11.6,162.5) rotate(-90)" x="0" y="0" text-anchor="middle" textLength="62.5" lengthAdjust="spacing" font-family="Liberation Serif, serif" font-weight="bold" font-size="11.5">Current (A)</text>
<rect x="458.5" y="24.0" width="79.2" height="72.3" fill="#fff" stroke="#bdbdbd" stroke-width="1"/><path d="M460.6,30.3H477.2" stroke="#000000" stroke-width="1.15"/><text transform="translate(478.6,34.2) scale(0.93,1)" font-family="Liberation Serif, serif" font-weight="bold" font-size="10.1">CIGS</text><path d="M460.6,42.3H477.2" stroke="#ff0000" stroke-width="1.15"/><text transform="translate(478.6,46.2) scale(0.93,1)" font-family="Liberation Serif, serif" font-weight="bold" font-size="10.1">Thin</text><path d="M460.6,54.3H477.2" stroke="#0072bd" stroke-width="1.15"/><text transform="translate(478.6,58.2) scale(0.93,1)" font-family="Liberation Serif, serif" font-weight="bold" font-size="10.1">Flexible Mono</text><path d="M460.6,66.3H477.2" stroke="#77ac30" stroke-width="1.15"/><text transform="translate(478.6,70.2) scale(0.93,1)" font-family="Liberation Serif, serif" font-weight="bold" font-size="10.1">Back Contact</text><path d="M460.6,78.3H477.2" stroke="#808080" stroke-width="1.15"/><text transform="translate(478.6,82.2) scale(0.93,1)" font-family="Liberation Serif, serif" font-weight="bold" font-size="10.1">Mono C</text><path d="M460.6,90.3H477.2" stroke="#00ffff" stroke-width="1.15"/><text transform="translate(478.6,94.2) scale(0.93,1)" font-family="Liberation Serif, serif" font-weight="bold" font-size="10.1">Poly C</text>
</g></svg>
</body></html>
